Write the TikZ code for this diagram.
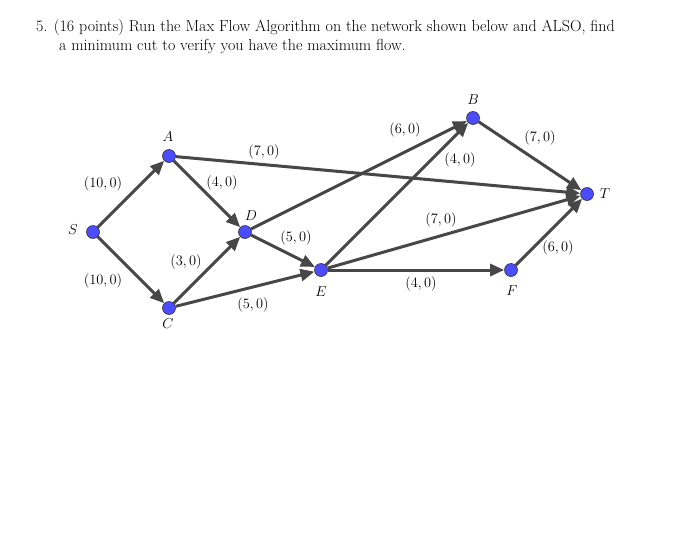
\documentclass[tikz,border=0pt]{standalone}
\usetikzlibrary{arrows.meta}
\begin{document}
\begin{tikzpicture}[x=1pt,y=-1pt,
  vtx/.style={circle,fill=blue!70!white,draw=black!80,line width=0.6pt,minimum size=13pt,inner sep=0pt},
  edge/.style={draw=black!72,line width=3pt,-{Triangle[length=14pt,width=12pt]}},
  lbl/.style={font=\fontsize{15.5}{18}\selectfont,inner sep=1pt},
  vname/.style={font=\fontsize{15.5}{18}\selectfont,inner sep=0pt}]
\useasboundingbox (0,0) rectangle (674,544);
\node[anchor=west,font=\fontsize{16}{19}\selectfont,inner sep=0pt] (t1) at (36,28) {5. (16 points) Run the Max Flow Algorithm on the network shown below and ALSO, find};
\node[anchor=west,font=\fontsize{16}{19}\selectfont,inner sep=0pt] (t2) at (59,47) {a minimum cut to verify you have the maximum flow.};
\node[vtx] (S) at (93,232) {};
\node[vtx] (A) at (169,156) {};
\node[vtx] (C) at (169,308) {};
\node[vtx] (D) at (245,232) {};
\node[vtx] (E) at (321,270) {};
\node[vtx] (B) at (473,118) {};
\node[vtx] (F) at (511,270) {};
\node[vtx] (T) at (587,194) {};
\node[vname] (lS) at (73,230) {$S$};
\node[vname] (lA) at (168,137) {$A$};
\node[vname] (lC) at (168,324) {$C$};
\node[vname] (lD) at (251,216) {$D$};
\node[vname] (lE) at (321,292) {$E$};
\node[vname] (lB) at (473,100) {$B$};
\node[vname] (lF) at (512,291) {$F$};
\node[vname] (lT) at (605,194) {$T$};
\draw[edge] (S) -- (A);
\draw[edge] (S) -- (C);
\draw[edge] (A) -- (T);
\draw[edge] (A) -- (D);
\draw[edge] (C) -- (D);
\draw[edge] (C) -- (E);
\draw[edge] (D) -- (E);
\draw[edge] (D) -- (B);
\draw[edge] (E) -- (B);
\draw[edge] (E) -- (T);
\draw[edge] (E) -- (F);
\draw[edge] (F) -- (T);
\draw[edge] (B) -- (T);
\node[lbl] (e1) at (103,184) {$(10,0)$};
\node[lbl] (e2) at (103,281) {$(10,0)$};
\node[lbl] (e3) at (264,152) {$(7,0)$};
\node[lbl] (e4) at (222,183) {$(4,0)$};
\node[lbl] (e5) at (186,262) {$(3,0)$};
\node[lbl] (e6) at (296,238) {$(5,0)$};
\node[lbl] (e7) at (253,305) {$(5,0)$};
\node[lbl] (e8) at (405,130) {$(6,0)$};
\node[lbl] (e9) at (460,160) {$(4,0)$};
\node[lbl] (e10) at (441,220) {$(7,0)$};
\node[lbl] (e11) at (540,138) {$(7,0)$};
\node[lbl] (e12) at (558,248) {$(6,0)$};
\node[lbl] (e13) at (421,284) {$(4,0)$};
\end{tikzpicture}
\end{document}
